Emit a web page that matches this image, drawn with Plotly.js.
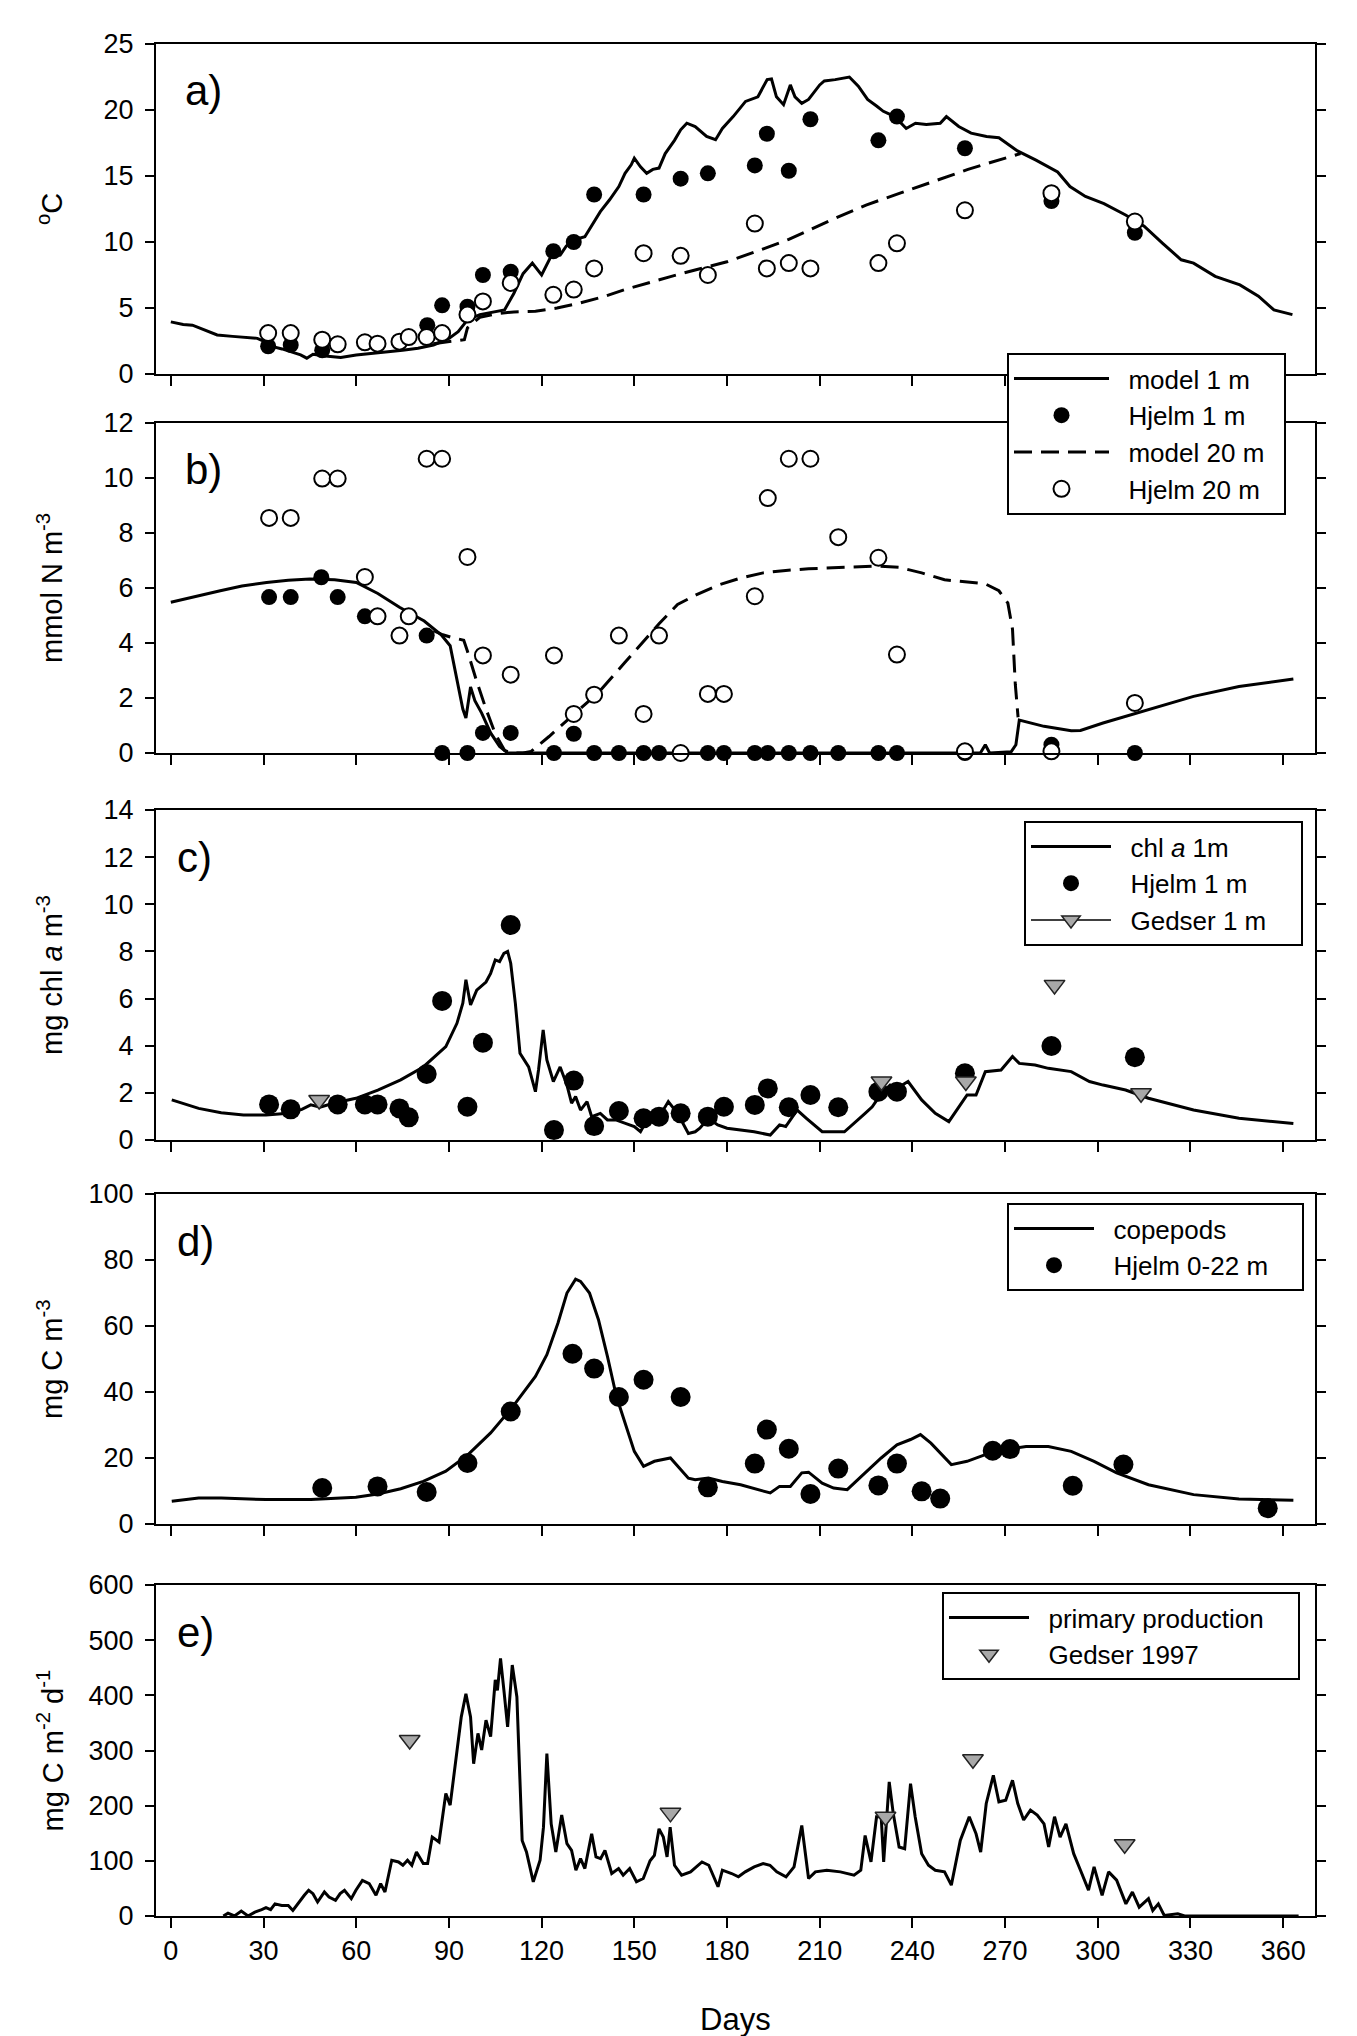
<!DOCTYPE html>
<html>
<head>
<meta charset="utf-8">
<script src="https://cdn.plot.ly/plotly-3.0.1.min.js"></script>
<style>
    html, body { margin: 0; padding: 0; background: #fff; }
    #chart { width: 1357px; height: 2036px; }
</style>
</head>
<body>
<div id="chart"></div>
<script>
// ---- data: [day, value] ----

// a) temperature
var tempModel1m = [[0,3.95],[4,3.75],[7,3.7],[11,3.3],[15,2.96],[20,2.85],[25,2.78],[28,2.7],[30,2.5],[33,2.07],[36,1.9],[40,1.6],[42,1.45],[44,1.2],[46,1.5],[50,1.37],[55,1.26],[60,1.44],[65,1.55],[70,1.7],[75,1.8],[80,1.95],[85,2.2],[88,2.5],[90,2.7],[93,3.2],[96,4.1],[100,4.5],[105,4.7],[108,4.85],[111,6.1],[114,7.6],[117,8.4],[120,7.5],[123,8.9],[126,9.0],[128,9.7],[131,10.2],[134,10.4],[136,11.2],[139,12.3],[142,13.2],[145,14.2],[147,15.2],[149,15.85],[150,16.35],[152,15.7],[154,15.2],[156,15.5],[158,15.6],[160,16.7],[163,17.7],[165,18.5],[167,19.0],[169.7,18.75],[173.4,18.0],[176.3,17.75],[178.5,18.6],[182,19.5],[186,20.65],[190,21.0],[193,22.3],[194.4,22.35],[196,21.0],[198.3,20.4],[200.5,21.9],[202,21.0],[204.2,20.5],[206.4,20.8],[210,21.9],[211.5,22.2],[215,22.3],[219.6,22.5],[222.5,21.8],[225.5,20.8],[228.4,20.3],[230.6,19.9],[234.3,19.5],[238,18.6],[241,19.0],[244.5,18.9],[249,19.0],[251,19.5],[255,18.75],[259,18.25],[264,18.0],[268,17.9],[274,16.9],[280,16.2],[287,15.3],[291,14.2],[296,13.45],[302,12.9],[309,12.05],[315,11.2],[321,9.9],[327,8.65],[331,8.4],[338,7.4],[346,6.75],[352,5.9],[357,4.85],[363,4.5]];
var tempModel20m = [[85,2.3],[90,2.45],[95,2.6],[96,3.5],[100,4.3],[105,4.55],[111,4.7],[118,4.75],[125,5.0],[132,5.35],[140,5.85],[147,6.4],[155,6.95],[162,7.4],[170,7.9],[180,8.5],[192,9.5],[200,10.2],[214,11.7],[225,12.8],[236,13.7],[247,14.6],[258,15.5],[265,16.0],[272,16.5],[275,16.7]];
var tempHjelm1m = [[31.5,2.1],[38.8,2.2],[49,1.8],[83,3.7],[87.8,5.2],[96,5.1],[101,7.5],[110,7.75],[123.8,9.3],[130.4,10.0],[137,13.6],[153,13.6],[165,14.8],[173.8,15.2],[189,15.8],[192.9,18.2],[200,15.4],[207,19.3],[229,17.7],[235,19.5],[257,17.1],[285,13.1],[312,10.7]];
var tempHjelm20m = [[31.5,3.1],[38.8,3.1],[49,2.6],[54,2.25],[62.8,2.4],[66.9,2.3],[74,2.45],[77,2.8],[82.8,2.8],[87.8,3.1],[96,4.5],[101,5.5],[110,6.9],[123.8,6.0],[130.4,6.4],[137,8.0],[153,9.15],[165,8.95],[173.8,7.5],[189,11.4],[192.9,8.0],[200,8.4],[207,8.0],[229,8.4],[235,9.9],[257,12.4],[285,13.7],[312,11.55]];

// b) nitrogen
var nModel1m = [[0,5.48],[8,5.7],[16,5.9],[23,6.07],[31,6.2],[38,6.28],[45,6.33],[53,6.3],[60,6.2],[67,5.8],[74,5.3],[82,4.8],[87.5,4.3],[90.4,3.9],[92.6,2.7],[94.5,1.6],[95.5,1.27],[97,2.4],[98.4,1.9],[100.6,1.45],[103.5,0.73],[106.4,0.24],[109,0],[262,0],[263.6,0.3],[265,0],[272,0.05],[273.5,0.3],[274.6,1.2],[282.6,0.97],[291.4,0.81],[294.4,0.82],[301.7,1.09],[316.4,1.58],[331,2.06],[345.7,2.42],[363.3,2.69]];
var nModel20m = [[85,4.45],[88,4.3],[91,4.2],[94.8,4.1],[96,3.7],[99,2.6],[102,1.6],[105,0.7],[108,0.1],[110,0],[114,0],[116.6,0.06],[122.4,0.6],[131,1.45],[138.4,2.2],[147,3.3],[155.8,4.4],[158,4.7],[164,5.4],[170,5.75],[177,6.1],[184.4,6.36],[191.7,6.55],[199,6.64],[206.4,6.7],[213.7,6.73],[221,6.76],[228.4,6.8],[235.7,6.75],[243,6.55],[250.4,6.3],[257.7,6.23],[263.6,6.15],[268,5.9],[270.9,5.45],[272.4,4.5],[273.3,2.5],[274.2,1.3]];
var nHjelm1m = [[31.8,5.67],[38.8,5.67],[48.7,6.39],[54,5.67],[62.8,4.97],[82.8,4.27],[87.8,0],[96,0],[101,0.73],[110,0.73],[124,0],[130.4,0.7],[137,0],[145,0],[153,0],[158,0],[173.8,0],[179,0],[189,0],[193.2,0],[200,0],[207,0],[216,0],[229,0],[235,0],[257,0],[285,0.3],[312,0]];
var nHjelm20m = [[31.8,8.55],[38.8,8.55],[49,9.98],[54,9.98],[62.8,6.4],[66.9,4.97],[74,4.27],[77,4.97],[82.8,10.7],[87.8,10.7],[96,7.13],[101,3.55],[110,2.85],[124,3.55],[130.4,1.42],[137,2.12],[145,4.27],[153,1.42],[158,4.27],[165,0],[173.8,2.15],[179,2.15],[189,5.7],[193.2,9.27],[200,10.7],[207,10.7],[216,7.85],[229,7.1],[235,3.58],[257,0.06],[285,0.06],[312,1.82]];

// c) chlorophyll
var chlModel = [[0.3,1.7],[9,1.34],[16.3,1.16],[23.5,1.06],[30.8,1.06],[38,1.13],[42.4,1.3],[45.3,1.49],[48.3,1.39],[52.6,1.56],[59.9,1.77],[67,2.12],[74.4,2.55],[81.7,3.1],[89,3.96],[92.6,4.95],[94.5,5.8],[95.5,6.8],[97,5.73],[99,6.36],[102,6.7],[103.5,7.07],[105,7.64],[106.4,7.57],[107.8,7.92],[109,8.0],[110,7.5],[111.5,5.8],[113,3.68],[114.4,3.4],[115.8,3.1],[118,2.05],[119,2.97],[120.5,4.67],[121.7,3.4],[123.8,2.48],[126,3.1],[128.2,2.33],[129.7,1.56],[131,1.84],[132.6,1.27],[134.7,1.63],[136.2,0.99],[139,1.13],[141.3,0.85],[144,0.85],[147,0.7],[150,0.57],[152,0.35],[154.4,0.92],[157,0.75],[161,1.63],[164,1.13],[167.5,0.28],[169.7,0.35],[171.2,0.5],[174,0.92],[177,0.64],[180,0.5],[184.4,0.42],[188.8,0.35],[194,0.21],[197,0.64],[199,0.57],[202.7,1.27],[205.7,0.92],[210.8,0.35],[218,0.35],[222.5,0.85],[224.7,1.13],[227,1.41],[230,1.98],[232.8,2.33],[235,2.19],[238.6,2.48],[243,1.7],[247.4,1.13],[251.8,0.78],[255.5,1.49],[257.7,1.91],[260.6,1.91],[263.6,2.9],[268.7,2.97],[272.4,3.54],[274.6,3.25],[279.7,3.18],[284,3.04],[291.4,2.9],[297.3,2.48],[301.7,2.33],[309,2.12],[316.4,1.77],[331,1.27],[345.7,0.92],[363.3,0.7]];
var chlHjelm1m = [[31.8,1.51],[38.8,1.3],[54,1.51],[62.8,1.51],[66.9,1.51],[74,1.34],[77,0.96],[82.8,2.8],[87.8,5.9],[96,1.41],[101,4.13],[110,9.12],[124,0.42],[130.4,2.52],[137,0.59],[145,1.23],[153,0.92],[158,0.99],[165,1.13],[173.8,0.99],[179,1.41],[189,1.49],[193.2,2.19],[200,1.39],[207,1.91],[216,1.39],[229,2.05],[235,2.05],[257,2.83],[285,3.99],[312,3.51]];
var chlGedser1m = [[48,1.7],[230,2.48],[257.3,2.48],[286,6.58],[314,1.98]];

// d) copepods
var copModel = [[0.3,6.9],[9,7.9],[16.3,7.9],[30.8,7.4],[45.3,7.4],[59.9,8.1],[67,9.1],[74.4,10.7],[81.7,12.9],[89,16],[96.2,21],[103.5,27.6],[110.8,35.7],[118,44.7],[121.7,51.3],[125.3,60.9],[128.2,70],[131,74.2],[132.6,73.5],[135.5,70],[138.4,61.9],[141.3,50.8],[144.2,38.7],[147,30.6],[150,22],[153,17.5],[156.5,19],[161.7,20],[164,17.5],[167.5,13.9],[169.7,13.4],[174,13.9],[178.5,12.9],[184.4,11.9],[194,9.4],[197,11.4],[200.5,11.4],[204.2,15.5],[206.4,15.7],[210.8,12.4],[214.5,10.9],[218.9,10.4],[224,14.9],[229.9,20],[235,24],[239.4,25.6],[242.6,27.1],[246,24.5],[252.6,18],[257.7,19],[263.6,21],[269.4,22.5],[276.8,23.5],[284,23.5],[291.4,22],[298.8,19],[306.1,15.5],[316.4,11.9],[331,8.9],[345.7,7.6],[363.3,7.2]];
var copHjelm = [[49,10.9],[66.9,11.4],[82.8,9.7],[96,18.5],[110,34.1],[130,51.6],[137,47.1],[145,38.5],[153,43.7],[165,38.5],[173.8,11.1],[189,18.3],[192.9,28.6],[200,22.8],[207,9.1],[216,16.8],[229,11.7],[235,18.3],[243,9.9],[249,7.7],[266,22.2],[271.6,22.7],[291.9,11.6],[308.3,18],[355,4.8]];

// e) primary production
var ppModel = [[17,0],[18.5,5],[20.6,0],[22.8,9],[25,0],[27.2,7],[29.4,11.5],[30.8,15],[32.3,11.5],[33.7,22],[35.9,19],[38,19],[39.5,10],[41,22],[43.2,37.5],[44.6,46.6],[46,40.5],[47.5,25.4],[49.7,43.5],[51.2,34.5],[53.3,28.4],[54.8,40.5],[56.2,46.6],[58.4,31.4],[59.9,46.6],[62,64.7],[64.2,58.7],[66.4,37.5],[67.9,58.7],[69.3,43.5],[71.5,101],[73.7,98],[75.1,92],[76.6,101],[78,92],[79.5,116],[81.7,95],[83.1,95],[84.6,143],[86.8,134],[89,222],[90.4,201],[91.9,270],[94,361],[95.5,403],[97,361],[98,276],[99.4,331],[100.6,301],[102,355],[103.5,325],[105,428],[105.7,409],[106.7,467],[107.8,409],[109,343],[110.5,455],[112,397],[113.7,137],[115.1,116],[117.3,62],[119.5,101],[120.6,161],[121.7,294.5],[123.1,167],[124.6,116],[126.5,183],[128.2,131],[129.7,119],[131.1,83],[132.6,104],[134,86],[136.2,149],[137.6,107],[139.1,104],[140.5,119],[142.7,77],[144.9,86],[146.4,74],[148.5,86],[150.7,62],[152.9,68],[155.1,100],[156.5,110],[158,158],[159.4,143],[160.6,107],[161.6,161],[163,92],[165.3,74],[168.2,80],[171.9,98],[174.1,92],[177.1,53],[178.5,83],[181.5,77],[183.7,71],[185.9,80],[188.8,89],[191.7,95],[193.9,92],[196.1,80],[199.1,71],[201.7,89],[204.2,164],[206.4,68],[208.6,80],[212.3,83],[216.7,80],[221.1,74],[223.3,83],[224.7,146],[226.6,98],[228.4,180],[229.9,180],[230.7,98],[232.5,243],[233.8,186],[235.7,125],[237.5,122],[239.4,240],[240.9,180],[243,113],[245.2,92],[247.4,83],[250.4,80],[252.6,56],[255.5,137],[258.4,180],[260.6,149],[262.1,116],[263.9,204],[266.2,255],[268,207],[270.2,210],[272.4,246],[274.1,204],[276,174],[278.2,192],[280.4,183],[282.6,167],[284.1,125],[286,180],[287.8,143],[289.7,167],[292.2,113],[294.4,83],[297,47],[298.8,89],[301.4,37.5],[303.5,80],[306.1,65],[309.1,22],[311.2,43.5],[313.4,16],[316.4,31.4],[317.8,10],[319.6,22],[321.5,1],[325.9,4],[328.1,0],[365,0]];
var ppGedser = [[77.3,319],[161.7,187],[231.3,180],[259.6,284],[308.7,130]];

// ---- page geometry ----
var W = 1357, H = 2036;
var FONT = '"Liberation Sans", Arial, Helvetica, sans-serif';
var plotLeft = 156, plotRight = 1315;
var panelTop = [44, 423, 810, 1194, 1585];
var panelBottom = [374, 753, 1140, 1524, 1916];
var yRanges = [[0, 25], [0, 12], [0, 14], [0, 100], [0, 600]];
var yDticks = [5, 2, 2, 20, 100];
var panelLabels = ['a)', 'b)', 'c)', 'd)', 'e)'];
var labelLeft = [183, 183, 175, 175, 175];
var yTitles = ['<sup>o</sup>C', 'mmol N m<sup>-3</sup>', 'mg chl <i>a</i> m<sup>-3</sup>', 'mg C m<sup>-3</sup>', 'mg C m<sup>-2</sup> d<sup>-1</sup>'];

function px(x) { return x / W; }
function py(y) { return 1 - y / H; }
function xs(p) { return p.map(function (d) { return d[0]; }); }
function ys(p) { return p.map(function (d) { return d[1]; }); }
function suffix(i) { return i === 0 ? '' : String(i + 1); }

// legend names get a little padding so the sample line does not run into the text
var NB = '\u00a0';
function lname(t, legend) {
    var tail = legend === 'legend' ? NB + NB : NB + NB + NB + NB;
    return NB + NB + t + tail;
}

// separate every point with a gap so a lines+markers trace draws no segments
function gapped(p, k) {
    var out = [];
    p.forEach(function (d, j) { if (j > 0) out.push(null); out.push(d[k]); });
    return out;
}

function lineTrace(pairs, panel, name, legend, dash, showlegend) {
    return {
        x: xs(pairs), y: ys(pairs),
        xaxis: 'x' + suffix(panel), yaxis: 'y' + suffix(panel),
        mode: 'lines', type: 'scatter', name: lname(name, legend), legend: legend,
        showlegend: showlegend,
        line: { color: '#000', width: 3, dash: dash || 'solid' },
        hoverinfo: 'skip'
    };
}

function dotTrace(pairs, panel, name, legend, size, open, showlegend) {
    return {
        x: xs(pairs), y: ys(pairs),
        xaxis: 'x' + suffix(panel), yaxis: 'y' + suffix(panel),
        mode: 'markers', type: 'scatter', name: lname(name, legend), legend: legend,
        showlegend: showlegend, cliponaxis: false,
        marker: {
            symbol: 'circle', size: size,
            color: open ? '#fff' : '#000',
            line: { color: '#000', width: open ? 2 : 0 }
        },
        hoverinfo: 'skip'
    };
}

function triTrace(pairs, panel, name, legend, withLine) {
    return {
        x: gapped(pairs, 0), y: gapped(pairs, 1),
        xaxis: 'x' + suffix(panel), yaxis: 'y' + suffix(panel),
        mode: withLine ? 'lines+markers' : 'markers', type: 'scatter',
        name: lname(name, legend), legend: legend, cliponaxis: false, connectgaps: false,
        line: { color: '#000', width: 1.5 },
        marker: { symbol: 'triangle-down', size: 18, color: '#a8a8a8', line: { color: '#222', width: 1.5 } },
        hoverinfo: 'skip'
    };
}

var DASH = '18px,9px';
var data = [
    lineTrace(tempModel1m, 0, 'model 1 m', 'legend', null, true),
    dotTrace(tempHjelm1m, 0, 'Hjelm 1 m', 'legend', 16, false, true),
    lineTrace(tempModel20m, 0, 'model 20 m', 'legend', DASH, true),
    dotTrace(tempHjelm20m, 0, 'Hjelm 20 m', 'legend', 16, true, true),

    lineTrace(nModel1m, 1, 'model 1 m', 'legend', null, false),
    dotTrace(nHjelm1m, 1, 'Hjelm 1 m', 'legend', 16, false, false),
    lineTrace(nModel20m, 1, 'model 20 m', 'legend', DASH, false),
    dotTrace(nHjelm20m, 1, 'Hjelm 20 m', 'legend', 16, true, false),

    lineTrace(chlModel, 2, 'chl <i>a</i> 1m', 'legend2', null, true),
    dotTrace(chlHjelm1m, 2, 'Hjelm 1 m', 'legend2', 20, false, true),
    triTrace(chlGedser1m, 2, 'Gedser 1 m', 'legend2', true),

    lineTrace(copModel, 3, 'copepods', 'legend3', null, true),
    dotTrace(copHjelm, 3, 'Hjelm 0-22 m', 'legend3', 20, false, true),

    lineTrace(ppModel, 4, 'primary production', 'legend4', null, true),
    triTrace(ppGedser, 4, 'Gedser 1997', 'legend4', false)
];

function legendAt(x, y, itemwidth) {
    return {
        x: px(x), y: py(y), xref: 'paper', yref: 'paper',
        xanchor: 'left', yanchor: 'top',
        bgcolor: '#fff', bordercolor: '#000', borderwidth: 2,
        font: { family: FONT, size: 26, color: '#000' },
        itemwidth: itemwidth, traceorder: 'normal', tracegroupgap: 0
    };
}

var tickFont = { family: FONT, size: 27, color: '#000' };
var layout = {
    width: W, height: H,
    margin: { l: 0, r: 0, t: 0, b: 0 },
    paper_bgcolor: '#fff', plot_bgcolor: '#fff',
    showlegend: true,
    legend: legendAt(1007, 353, 95),
    legend2: legendAt(1024, 821, 80),
    legend3: legendAt(1007, 1203, 80),
    legend4: legendAt(942, 1592, 80),
    annotations: []
};

for (var i = 0; i < 5; i++) {
    var s = suffix(i);
    layout['xaxis' + s] = {
        domain: [px(plotLeft), px(plotRight)],
        range: [-4.8, 370.3], anchor: 'y' + s,
        tick0: 0, dtick: 30,
        ticks: 'outside', ticklen: 10, tickwidth: 2, tickcolor: '#000',
        showline: true, linecolor: '#000', linewidth: 2, mirror: true,
        showgrid: false, zeroline: false,
        showticklabels: i === 4, tickfont: tickFont, ticklabelstandoff: 0
    };
    layout['yaxis' + s] = {
        domain: [py(panelBottom[i]), py(panelTop[i])],
        range: yRanges[i], anchor: 'x' + s,
        tick0: 0, dtick: yDticks[i],
        ticks: 'outside', ticklen: 9, tickwidth: 2, tickcolor: '#000',
        showline: true, linecolor: '#000', linewidth: 2, mirror: 'ticks',
        showgrid: false, zeroline: false,
        tickfont: tickFont, ticklabelstandoff: 6
    };
    layout.annotations.push({
        text: panelLabels[i], xref: 'paper', yref: 'paper',
        x: px(labelLeft[i]), y: py(panelTop[i] + 47),
        xanchor: 'left', yanchor: 'middle', showarrow: false,
        font: { family: FONT, size: 42, color: '#000' }
    });
    layout.annotations.push({
        text: yTitles[i], xref: 'paper', yref: 'paper',
        x: px(50), y: py((panelTop[i] + panelBottom[i]) / 2),
        xanchor: 'center', yanchor: 'middle', textangle: -90, showarrow: false,
        font: { family: FONT, size: 29, color: '#000' }
    });
}

layout.annotations.push({
    text: 'Days', xref: 'paper', yref: 'paper',
    x: px((plotLeft + plotRight) / 2), y: py(2019),
    xanchor: 'center', yanchor: 'middle', showarrow: false,
    font: { family: FONT, size: 31, color: '#000' }
});

Plotly.newPlot('chart', data, layout, { staticPlot: true });
</script>
</body>
</html>
